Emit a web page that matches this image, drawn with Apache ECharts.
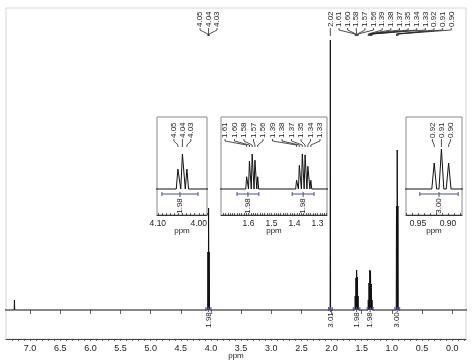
<!DOCTYPE html>
<html><head><meta charset="utf-8">
<script src="https://cdn.jsdelivr.net/npm/echarts@6/dist/echarts.min.js"></script>
<style>html,body{margin:0;padding:0;background:#fff}#c{width:474px;height:363px}</style>
</head><body><div id="c"></div>
<script>
// ---------------- data (ppm, intensity) ----------------
const peaksSolvent = [[7.26, 10]];
const peaksOCH2    = [[4.051, 58], [4.040, 102], [4.029, 58]];
const peaksAcetyl  = [[2.128, 2], [2.020, 270], [1.912, 2]];
const peaksCH2a    = [[1.608, 14], [1.596, 32], [1.584, 40], [1.572, 33], [1.560, 14]];
const peaksCH2b    = [[1.391, 10], [1.379, 27], [1.366, 40], [1.354, 39], [1.342, 26], [1.329, 10]];
const peaksCH3     = [[0.923, 104], [0.911, 160], [0.899, 104]];

// peak-pick labels
const mainLabelsA    = ['4.05', '4.04', '4.03'];
const mainLabelsAPpm = [4.051, 4.040, 4.029];
const mainLabelsB    = ['2.02', '1.61', '1.60', '1.58', '1.57', '1.56', '1.39', '1.38', '1.37', '1.35', '1.34', '1.33', '0.92', '0.91', '0.90'];
const mainLabelsBPpm = [2.020, 1.608, 1.596, 1.584, 1.572, 1.560, 1.391, 1.379, 1.366, 1.354, 1.342, 1.329, 0.923, 0.911, 0.899];
const inset1Labels    = ['4.05', '4.04', '4.03'];
const inset1LabelsPpm = [4.051, 4.040, 4.029];
const inset2Labels    = ['1.61', '1.60', '1.58', '1.57', '1.56', '1.39', '1.38', '1.37', '1.35', '1.34', '1.33'];
const inset2LabelsPpm = [1.608, 1.596, 1.584, 1.572, 1.560, 1.391, 1.379, 1.366, 1.354, 1.342, 1.329];
const inset3Labels    = ['0.92', '0.91', '0.90'];
const inset3LabelsPpm = [0.923, 0.911, 0.899];

// integrals: [from ppm, to ppm, value]
const mainIntegrals   = [[4.085, 4.000, 1.98], [2.050, 1.990, 3.01], [1.640, 1.530, 1.98], [1.410, 1.310, 1.98], [0.950, 0.870, 3.00]];
const inset1Integrals = [[4.090, 4.002, 1.98]];
const inset2Integrals = [[1.650, 1.555, 1.98], [1.410, 1.315, 1.98]];
const inset3Integrals = [[0.947, 0.883, 3.00]];

// axis tick labels
const mainTickLabels   = [0.0, 0.5, 1.0, 1.5, 2.0, 2.5, 3.0, 3.5, 4.0, 4.5, 5.0, 5.5, 6.0, 6.5, 7.0];
const inset1TickLabels = [4.00, 4.10];
const inset2TickLabels = [1.3, 1.4, 1.5, 1.6];
const inset3TickLabels = [0.90, 0.95];

// ---------------- build ----------------
const FONT = 'Liberation Sans, Arial, sans-serif';
const INK = '#222';
const BLUE = '#4d4da3';
const allPeaks = [].concat(peaksSolvent, peaksOCH2, peaksAcetyl, peaksCH2a, peaksCH2b, peaksCH3)
  .sort((a, b) => a[0] - b[0]);
function spectrumLine(halfWidth) {
  const pts = [[-1, 0]];
  allPeaks.forEach(p => { pts.push([p[0] - halfWidth, 0], [p[0], p[1]], [p[0] + halfWidth, 0]); });
  pts.push([9, 0]);
  return pts;
}
function stepTicks(lo, hi, step) {
  const out = []; const n = Math.round((hi - lo) / step);
  for (let i = 0; i <= n; i++) out.push(+(lo + i * step).toFixed(4));
  return out;
}

function labelSeries(idx, labels, ppms, anchorFn, spacing, textBottom) {
  return {
    type: 'custom', xAxisIndex: idx.x, yAxisIndex: idx.y, silent: true, z: 10, clip: false,
    data: ppms.map((p, i) => [p, 0, i]),
    renderItem: function (params, api) {
      const i = api.value(2);
      const px = api.coord([api.value(0), 0])[0];
      const cs = params.coordSys;
      const lx = anchorFn(cs, api, ppms.length) + (i - (ppms.length - 1) / 2) * spacing;
      const yb = cs.y + textBottom;
      return { type: 'group', children: [
        { type: 'text', x: lx, y: yb, rotation: Math.PI / 2,
          style: { text: labels[i], fontSize: 8, fontFamily: FONT, fill: INK, align: 'left', verticalAlign: 'middle' } },
        { type: 'polyline', shape: { points: [[lx, yb + 1], [lx, yb + 3], [px, yb + 7], [px, yb + 9]] },
          style: { stroke: INK, lineWidth: 0.8, fill: null } }
      ]};
    }
  };
}

function integralSeries(idx, data, barOffset, textOffset) {
  return {
    type: 'custom', xAxisIndex: idx.x, yAxisIndex: idx.y, silent: true, z: 9, clip: false,
    data: data,
    renderItem: function (params, api) {
      const a = api.coord([api.value(0), 0]);
      const b = api.coord([api.value(1), 0]);
      const y0 = a[1] + barOffset;
      const xc = (a[0] + b[0]) / 2;
      const ls = { stroke: BLUE, lineWidth: 1 };
      return { type: 'group', children: [
        { type: 'line', shape: { x1: a[0], y1: y0, x2: b[0], y2: y0 }, style: ls },
        { type: 'line', shape: { x1: a[0], y1: y0 - 2, x2: a[0], y2: y0 + 2 }, style: ls },
        { type: 'line', shape: { x1: b[0], y1: y0 - 2, x2: b[0], y2: y0 + 2 }, style: ls },
        { type: 'line', shape: { x1: xc, y1: y0 - 2, x2: xc, y2: y0 + 1 }, style: ls },
        { type: 'line', shape: { x1: xc, y1: y0 + 1, x2: xc, y2: y0 + 3 }, style: { stroke: INK, lineWidth: 0.8 } },
        { type: 'text', x: xc, y: a[1] + textOffset, rotation: Math.PI / 2,
          style: { text: api.value(2).toFixed(2), fontSize: 8, fontFamily: FONT, fill: INK, align: 'center', verticalAlign: 'middle' } }
      ]};
    }
  };
}

function insetX(gridIndex, min, max, labelVals, tickVals, fmtDigits) {
  return {
    type: 'value', gridIndex: gridIndex, inverse: true, min: min, max: max,
    axisLine: { show: true, onZero: false, lineStyle: { color: '#333', width: 1 } },
    axisTick: { show: true, inside: true, length: 2, customValues: tickVals, lineStyle: { color: '#333', width: 0.8 } },
    axisLabel: { customValues: labelVals, formatter: v => v.toFixed(fmtDigits), fontSize: 8.5, fontFamily: FONT, color: INK, margin: 4 },
    splitLine: { show: false },
    name: 'ppm', nameLocation: 'middle', nameGap: 12, nameMoveOverlap: false,
    nameTextStyle: { fontSize: 8, fontFamily: FONT, color: INK }
  };
}
function hiddenY(gridIndex, min, max) {
  return { type: 'value', gridIndex: gridIndex, min: min, max: max, show: false, splitLine: { show: false } };
}

const chart = echarts.init(document.getElementById('c'), null, { renderer: 'canvas' });
const spec = spectrumLine(0.004);
const lineBase = { type: 'line', showSymbol: false, symbol: 'none', animation: false, silent: true,
  lineStyle: { color: '#111', width: 1 }, clip: true };

// inset scales (px per intensity unit)
const f1 = 35 / 102, f2 = 35 / 40, f3 = 40 / 160;
const G = { outerBoundsMode: 'none', containLabel: false, show: true, borderWidth: 1 };

chart.setOption({
  animation: false,
  grid: [
    Object.assign({ left: 6, top: 8, width: 460, height: 331, borderColor: '#d4d4d4', backgroundColor: 'transparent' }, G),
    Object.assign({ left: 157, top: 117, width: 50, height: 98, borderColor: '#8a8a8a', backgroundColor: '#fff' }, G),
    Object.assign({ left: 221, top: 117, width: 106, height: 98, borderColor: '#8a8a8a', backgroundColor: '#fff' }, G),
    Object.assign({ left: 406, top: 117, width: 56, height: 98, borderColor: '#8a8a8a', backgroundColor: '#fff' }, G)
  ],
  xAxis: [
    { type: 'value', gridIndex: 0, inverse: true, min: -0.23, max: 7.40,
      axisLine: { show: true, onZero: false, lineStyle: { color: '#444', width: 1 } },
      axisTick: { show: true, length: 2, customValues: stepTicks(-0.2, 7.3, 0.1), lineStyle: { color: '#444', width: 0.8 } },
      axisLabel: { customValues: mainTickLabels, formatter: v => v.toFixed(1), fontSize: 9, fontFamily: FONT, color: INK, margin: 5 },
      splitLine: { show: false },
      name: 'ppm', nameLocation: 'middle', nameGap: 13, nameMoveOverlap: false,
      nameTextStyle: { fontSize: 8, fontFamily: FONT, color: INK } },
    { type: 'value', gridIndex: 0, inverse: true, min: -0.23, max: 7.40, position: 'bottom',
      axisLine: { show: false },
      axisTick: { show: true, length: 4, customValues: mainTickLabels, lineStyle: { color: '#444', width: 0.8 } },
      axisLabel: { show: false }, splitLine: { show: false } },
    insetX(1, 3.98, 4.102, inset1TickLabels, stepTicks(3.98, 4.10, 0.01), 2),
    insetX(2, 1.2587, 1.7196, inset2TickLabels, stepTicks(1.26, 1.71, 0.01), 1),
    insetX(3, 0.8767, 0.97, inset3TickLabels, stepTicks(0.88, 0.97, 0.01), 2)
  ],
  yAxis: [
    hiddenY(0, -29, 302),
    hiddenY(1, -26 / f1, 72 / f1),
    hiddenY(2, -26 / f2, 72 / f2),
    hiddenY(3, -26 / f3, 72 / f3)
  ],
  series: [
    Object.assign({}, lineBase, { xAxisIndex: 0, yAxisIndex: 0, data: spec }),
    Object.assign({}, lineBase, { xAxisIndex: 2, yAxisIndex: 1, data: spec, z: 4 }),
    Object.assign({}, lineBase, { xAxisIndex: 3, yAxisIndex: 2, data: spec, z: 4 }),
    Object.assign({}, lineBase, { xAxisIndex: 4, yAxisIndex: 3, data: spec, z: 4 }),

    labelSeries({ x: 0, y: 0 }, mainLabelsA, mainLabelsAPpm, (cs, api) => api.coord([4.040, 0])[0], 8.5, 19),
    labelSeries({ x: 0, y: 0 }, mainLabelsB, mainLabelsBPpm, (cs, api, n) => api.coord([2.020, 0])[0] + (n - 1) / 2 * 8.64, 8.64, 19),
    labelSeries({ x: 2, y: 1 }, inset1Labels, inset1LabelsPpm, (cs, api) => api.coord([4.040, 0])[0], 8.5, 21),
    labelSeries({ x: 3, y: 2 }, inset2Labels, inset2LabelsPpm, (cs) => cs.x + 51.5, 9.5, 21),
    labelSeries({ x: 4, y: 3 }, inset3Labels, inset3LabelsPpm, (cs, api) => api.coord([0.911, 0])[0], 9, 21),

    integralSeries({ x: 0, y: 0 }, mainIntegrals, -1, 10),
    integralSeries({ x: 2, y: 1 }, inset1Integrals, 5, 17),
    integralSeries({ x: 3, y: 2 }, inset2Integrals, 5, 17),
    integralSeries({ x: 4, y: 3 }, inset3Integrals, 5, 17)
  ]
});
</script></body></html>
